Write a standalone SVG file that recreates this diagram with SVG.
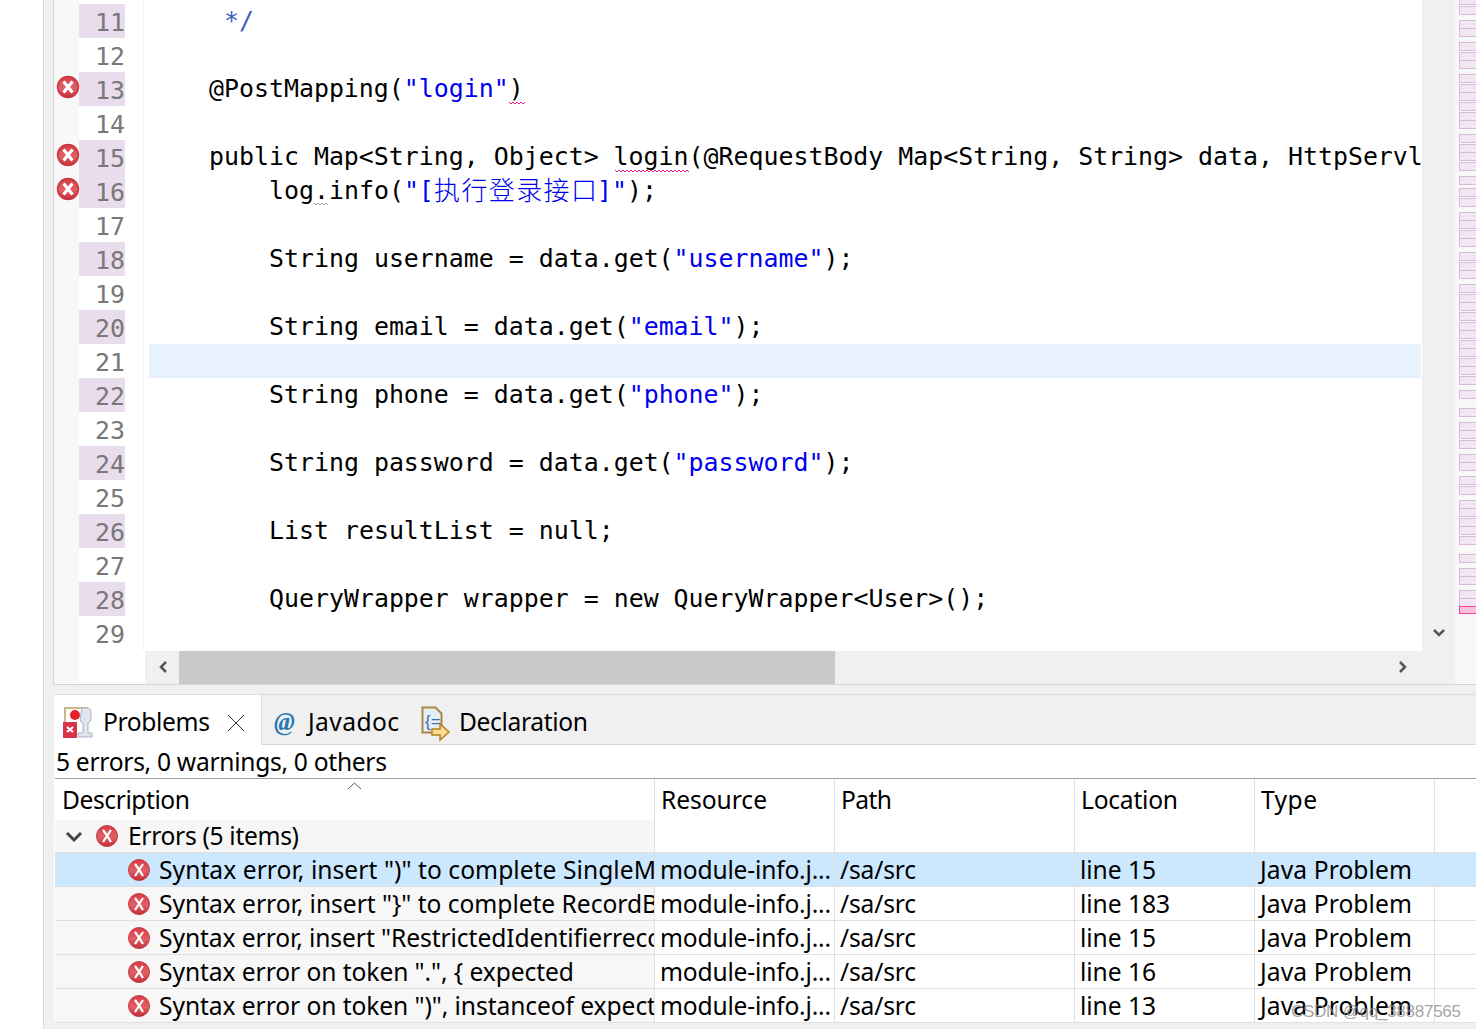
<svg xmlns="http://www.w3.org/2000/svg" width="1476" height="1029" viewBox="0 0 1476 1029">
<style>
.code{font-family:"DejaVu Sans Mono","Liberation Mono",monospace;font-size:24.9px;fill:#000}
.str{fill:#0000f0}
.ln{font-family:"DejaVu Sans Mono","Liberation Mono",monospace;font-size:24.9px;fill:#787878;text-anchor:end}
.ui{font-family:"Noto Sans","Open Sans",sans-serif;font-size:24.6px;fill:#000}
.m{fill:#f1e6f1;stroke:#dcb8dc;stroke-width:1}
.pk{fill:#e9dcec}
.sq{fill:none;stroke:#e0208c;stroke-width:1}
.chev{fill:none;stroke:#555;stroke-width:2.5}
.gl{stroke:#e0e0e0;stroke-width:1}
</style>
<defs>
<linearGradient id="red" x1="0" y1="0" x2="0" y2="1"><stop offset="0" stop-color="#d83c44"/><stop offset=".55" stop-color="#e06068"/><stop offset="1" stop-color="#c42c38"/></linearGradient>
<g id="err"><circle r="12" fill="#fff"/><circle r="10.500" fill="url(#red)" stroke="#c83840" stroke-width="1.500"/><path d="M-4.500-5.500L4.500 5.500M4.500-5.500L-4.500 5.500" stroke="#fff" stroke-width="3.200" fill="none"/></g>
<g id="errs"><circle r="10.500" fill="url(#red)" stroke="#c83840" stroke-width="1"/><path d="M-4-6Q0-1 4 6M4-6Q0 0-4 6" stroke="#fff" stroke-width="2.200" fill="none"/></g>
<clipPath id="codeclip"><rect x="149" y="0" width="1273" height="651"/></clipPath>
<clipPath id="descclip"><rect x="55" y="780" width="599" height="245"/></clipPath>
</defs>
<rect width="1476" height="1029" fill="#fff"/>
<rect x="43" y="0" width="11" height="1029" fill="#f0f0f0"/>
<rect x="43" y="0" width="1" height="1029" fill="#d9d9d9"/>
<rect x="53" y="0" width="1" height="685" fill="#d4d4d4"/>
<rect x="54" y="0" width="25" height="684" fill="#f8f8f8"/>
<rect x="143" y="0" width="1" height="651" fill="#f2f2f2"/>
<rect x="1422" y="0" width="33" height="685" fill="#f0f0f0"/>
<rect x="1455" y="0" width="21" height="685" fill="#f8f8f8"/>
<rect x="149" y="344" width="1272" height="34" fill="#e8f2fe"/>
<g id="gutter">
<rect class="pk" x="79" y="4" width="46" height="34"/><rect class="pk" x="79" y="72" width="46" height="34"/><rect class="pk" x="79" y="140" width="46" height="68"/><rect class="pk" x="79" y="242" width="46" height="34"/><rect class="pk" x="79" y="310" width="46" height="34"/><rect class="pk" x="79" y="378" width="46" height="34"/><rect class="pk" x="79" y="446" width="46" height="34"/><rect class="pk" x="79" y="514" width="46" height="34"/><rect class="pk" x="79" y="582" width="46" height="34"/>
<text class="ln" x="125" y="31">11</text><text class="ln" x="125" y="65">12</text><text class="ln" x="125" y="99">13</text><text class="ln" x="125" y="133">14</text><text class="ln" x="125" y="167">15</text><text class="ln" x="125" y="201">16</text><text class="ln" x="125" y="235">17</text><text class="ln" x="125" y="269">18</text><text class="ln" x="125" y="303">19</text><text class="ln" x="125" y="337">20</text><text class="ln" x="125" y="371">21</text><text class="ln" x="125" y="405">22</text><text class="ln" x="125" y="439">23</text><text class="ln" x="125" y="473">24</text><text class="ln" x="125" y="507">25</text><text class="ln" x="125" y="541">26</text><text class="ln" x="125" y="575">27</text><text class="ln" x="125" y="609">28</text><text class="ln" x="125" y="643">29</text>
<use href="#err" x="68" y="87"/><use href="#err" x="68" y="155"/><use href="#err" x="68" y="189"/>
</g>
<g id="code" clip-path="url(#codeclip)">
<text class="code" x="224" y="29" style="fill:#3f5fbf">*/</text>
<text class="code" x="209" y="97">@PostMapping(<tspan class="str">"login"</tspan>)</text>
<text class="code" x="209" y="165">public Map&lt;String, Object&gt; login(@RequestBody Map&lt;String, String&gt; data, HttpServl</text>
<text class="code" x="269" y="199">log.info(<tspan class="str">"[</tspan></text>
<text x="434" y="200" textLength="163" style="font-family:'Noto Sans CJK SC',sans-serif;font-size:26px;font-weight:300;fill:#0000f0">执行登录接口</text>
<text class="code" x="597" y="199"><tspan class="str">]"</tspan>);</text>
<text class="code" x="269" y="267">String username = data.get(<tspan class="str">"username"</tspan>);</text>
<text class="code" x="269" y="335">String email = data.get(<tspan class="str">"email"</tspan>);</text>
<text class="code" x="269" y="403">String phone = data.get(<tspan class="str">"phone"</tspan>);</text>
<text class="code" x="269" y="471">String password = data.get(<tspan class="str">"password"</tspan>);</text>
<text class="code" x="269" y="539">List resultList = null;</text>
<text class="code" x="269" y="607">QueryWrapper wrapper = new QueryWrapper&lt;User&gt;();</text>
<path class="sq" d="M509 102l2 2 2-2 2 2 2-2 2 2 2-2 2 2 2-2"/>
<path class="sq" d="M615 170l2 2 2-2 2 2 2-2 2 2 2-2 2 2 2-2 2 2 2-2 2 2 2-2 2 2 2-2 2 2 2-2 2 2 2-2 2 2 2-2 2 2 2-2 2 2 2-2 2 2 2-2 2 2 2-2 2 2 2-2 2 2 2-2 2 2 2-2 2 2 2-2 2 2"/>
<path d="M314 203l2 2 2-2 2 2 2-2 2 2 2-2 2 2" fill="none" stroke="#999" stroke-width="1"/>
</g>
<g id="ruler">
<rect class="m" x="1459.500" y="-3.500" width="17" height="8"/><rect class="m" x="1459.500" y="6.500" width="17" height="8"/><rect class="m" x="1459.500" y="20.500" width="17" height="8"/><rect class="m" x="1459.500" y="28.500" width="17" height="8"/><rect class="m" x="1459.500" y="42.500" width="17" height="8"/><rect class="m" x="1459.500" y="52.500" width="17" height="8"/><rect class="m" x="1459.500" y="60.500" width="17" height="8"/><rect class="m" x="1459.500" y="74.500" width="17" height="8"/><rect class="m" x="1459.500" y="84.500" width="17" height="8"/><rect class="m" x="1459.500" y="92.500" width="17" height="8"/><rect class="m" x="1459.500" y="102.500" width="17" height="8"/><rect class="m" x="1459.500" y="112.500" width="17" height="8"/><rect class="m" x="1459.500" y="120.500" width="17" height="8"/><rect class="m" x="1459.500" y="134.500" width="17" height="8"/><rect class="m" x="1459.500" y="144.500" width="17" height="8"/><rect class="m" x="1459.500" y="152.500" width="17" height="8"/><rect class="m" x="1459.500" y="162.500" width="17" height="8"/><rect class="m" x="1459.500" y="176.500" width="17" height="8"/><rect class="m" x="1459.500" y="188.500" width="17" height="8"/><rect class="m" x="1459.500" y="198.500" width="17" height="8"/><rect class="m" x="1459.500" y="212.500" width="17" height="8"/><rect class="m" x="1459.500" y="220.500" width="17" height="8"/><rect class="m" x="1459.500" y="230.500" width="17" height="8"/>
<rect class="m" x="1459.500" y="238.500" width="17" height="8"/><rect class="m" x="1459.500" y="252.500" width="17" height="8"/><rect class="m" x="1459.500" y="262.500" width="17" height="8"/><rect class="m" x="1459.500" y="270.500" width="17" height="8"/><rect class="m" x="1459.500" y="284.500" width="17" height="8"/><rect class="m" x="1459.500" y="294.500" width="17" height="8"/><rect class="m" x="1459.500" y="302.500" width="17" height="8"/><rect class="m" x="1459.500" y="312.500" width="17" height="8"/><rect class="m" x="1459.500" y="322.500" width="17" height="8"/><rect class="m" x="1459.500" y="330.500" width="17" height="8"/><rect class="m" x="1459.500" y="340.500" width="17" height="8"/><rect class="m" x="1459.500" y="348.500" width="17" height="8"/><rect class="m" x="1459.500" y="358.500" width="17" height="8"/><rect class="m" x="1459.500" y="366.500" width="17" height="8"/><rect class="m" x="1459.500" y="376.500" width="17" height="8"/><rect class="m" x="1459.500" y="390.500" width="17" height="8"/><rect class="m" x="1459.500" y="408.500" width="17" height="8"/><rect class="m" x="1459.500" y="422.500" width="17" height="8"/><rect class="m" x="1459.500" y="430.500" width="17" height="8"/><rect class="m" x="1459.500" y="440.500" width="17" height="8"/><rect class="m" x="1459.500" y="454.500" width="17" height="8"/><rect class="m" x="1459.500" y="462.500" width="17" height="8"/><rect class="m" x="1459.500" y="476.500" width="17" height="8"/>
<rect class="m" x="1459.500" y="486.500" width="17" height="8"/><rect class="m" x="1459.500" y="500.500" width="17" height="8"/><rect class="m" x="1459.500" y="508.500" width="17" height="8"/><rect class="m" x="1459.500" y="518.500" width="17" height="8"/><rect class="m" x="1459.500" y="526.500" width="17" height="8"/><rect class="m" x="1459.500" y="536.500" width="17" height="8"/><rect class="m" x="1459.500" y="554.500" width="17" height="8"/><rect class="m" x="1459.500" y="568.500" width="17" height="8"/><rect class="m" x="1459.500" y="576.500" width="17" height="8"/><rect class="m" x="1459.500" y="590.500" width="17" height="8"/><rect class="m" x="1459.500" y="598.500" width="17" height="8"/>
<rect x="1459.500" y="606.500" width="17" height="7" fill="#fbc0dc" stroke="#f0409c"/>
</g>
<g id="scrollbars">
<path class="chev" d="M1434 630l5 5 5-5"/>
<rect x="145" y="651" width="1277" height="33" fill="#f0f0f0"/>
<rect x="179" y="651" width="656" height="33" fill="#c9c9c9"/>
<path class="chev" d="M166 662l-5 5 5 5"/>
<path class="chev" d="M1400 662l5 5-5 5"/>
<rect x="53" y="684" width="1423" height="1" fill="#d4d4d4"/>
</g>
<g id="tabs">
<rect x="53" y="685" width="1423" height="60" fill="#f0f0f0"/>
<rect x="53" y="694" width="1423" height="1" fill="#dcdcdc"/>
<rect x="54" y="695" width="207" height="50" fill="#fff"/>
<rect x="261" y="695" width="1" height="50" fill="#dcdcdc"/>
<rect x="262" y="744" width="1214" height="1" fill="#d8d8d8"/>
<g id="problems-icon">
<path d="M64 707h24v2h-22v14h-2z" fill="#c8b888"/>
<path d="M82 708h6q3 0 3 5v6q0 3-3 4v10h4v4h-14v-4h5v-10q-3-1-3-4z" fill="#dfe6ee" stroke="#a8b4c6" stroke-width="1"/>
<circle cx="75" cy="715" r="5" fill="#e3202c"/>
<rect x="63" y="722" width="14" height="16" fill="#d8344c"/>
<path d="M67 727l6 5M73 727l-6 5" stroke="#fff" stroke-width="2.200"/>
</g>
<text class="ui" x="103" y="731" textLength="107">Problems</text>
<path d="M228 715l16 16M244 715l-16 16" stroke="#333" stroke-width="1" fill="none"/>
<text x="274" y="730" style="font-family:'Liberation Serif',serif;font-size:25px;font-style:italic;font-weight:bold;fill:#2a7ab0">@</text>
<text class="ui" x="308" y="731" textLength="91">Javadoc</text>
<g id="declaration-icon">
<path d="M422.500 707.500h13l6 6v19h-19z" fill="#e6eef8" stroke="#a88a40" stroke-width="2"/>
<text x="425" y="727" style="font-family:'Liberation Sans',sans-serif;font-size:17px;fill:#3a70b0">{=</text>
<path d="M432 729h8v-5l9 8-9 8v-5h-8z" fill="#f8dc90" stroke="#b8801c" stroke-width="1.500"/>
</g>
<text class="ui" x="459" y="731" textLength="129">Declaration</text>
</g>
<g id="problems">
<text class="ui" x="56" y="771" textLength="331">5 errors, 0 warnings, 0 others</text>
<rect x="55" y="778" width="1421" height="1" fill="#a0a0a0"/>
<path d="M348 789l6.500-6 6.500 6" fill="none" stroke="#555" stroke-width="1"/>
<rect x="55" y="820" width="599" height="32" fill="#f6f6f6"/>
<rect x="55" y="887" width="599" height="136" fill="#f7f7f7"/>
<rect x="55" y="853" width="1421" height="33.500" fill="#cce8ff"/>
<path class="gl" d="M55 852.500H1476M55 886.500H1476M55 920.500H1476M55 954.500H1476M55 988.500H1476M55 1022.500H1476"/>
<path class="gl" d="M654.500 779V1023M834.500 779V1023M1074.500 779V1023M1254.500 779V1023M1434.500 779V1023"/>
<rect x="53" y="1023" width="1423" height="6" fill="#f0f0f0"/>
<text class="ui" x="62" y="809" textLength="128">Description</text>
<text class="ui" x="661" y="809" textLength="106">Resource</text>
<text class="ui" x="841" y="809" textLength="51">Path</text>
<text class="ui" x="1081" y="809" textLength="97">Location</text>
<text class="ui" x="1261" y="809" textLength="56">Type</text>
<path d="M67 833l7 7 7-7" fill="none" stroke="#444" stroke-width="3"/>
<use href="#errs" x="107" y="836"/>
<text class="ui" x="128" y="845" textLength="171">Errors (5 items)</text>
<use href="#errs" x="139" y="870"/><use href="#errs" x="139" y="904"/><use href="#errs" x="139" y="938"/><use href="#errs" x="139" y="972"/><use href="#errs" x="139" y="1006"/>
<g clip-path="url(#descclip)">
<text class="ui" x="159" y="879" textLength="497">Syntax error, insert ")" to complete SingleM</text>
<text class="ui" x="159" y="913" textLength="499">Syntax error, insert "}" to complete RecordB</text>
<text class="ui" x="159" y="947" textLength="500">Syntax error, insert "RestrictedIdentifierrecc</text>
<text class="ui" x="159" y="981" textLength="415">Syntax error on token ".", { expected</text>
<text class="ui" x="159" y="1015" textLength="497">Syntax error on token ")", instanceof expect</text>
</g>
<text class="ui" x="660" y="879" textLength="171">module-info.j...</text><text class="ui" x="660" y="913" textLength="171">module-info.j...</text><text class="ui" x="660" y="947" textLength="171">module-info.j...</text><text class="ui" x="660" y="981" textLength="171">module-info.j...</text><text class="ui" x="660" y="1015" textLength="171">module-info.j...</text>
<text class="ui" x="840" y="879" textLength="76">/sa/src</text><text class="ui" x="840" y="913" textLength="76">/sa/src</text><text class="ui" x="840" y="947" textLength="76">/sa/src</text><text class="ui" x="840" y="981" textLength="76">/sa/src</text><text class="ui" x="840" y="1015" textLength="76">/sa/src</text>
<text class="ui" x="1080" y="879" textLength="76">line 15</text><text class="ui" x="1080" y="913" textLength="90">line 183</text><text class="ui" x="1080" y="947" textLength="76">line 15</text><text class="ui" x="1080" y="981" textLength="76">line 16</text><text class="ui" x="1080" y="1015" textLength="76">line 13</text>
<text class="ui" x="1260" y="879" textLength="152">Java Problem</text><text class="ui" x="1260" y="913" textLength="152">Java Problem</text><text class="ui" x="1260" y="947" textLength="152">Java Problem</text><text class="ui" x="1260" y="981" textLength="152">Java Problem</text><text class="ui" x="1260" y="1015" textLength="152">Java Problem</text>
</g>
<text x="1291" y="1017" textLength="170" style="font-family:'Liberation Sans',sans-serif;font-size:17px;fill:#888;opacity:.75">CSDN @qq_38887565</text>
</svg>
